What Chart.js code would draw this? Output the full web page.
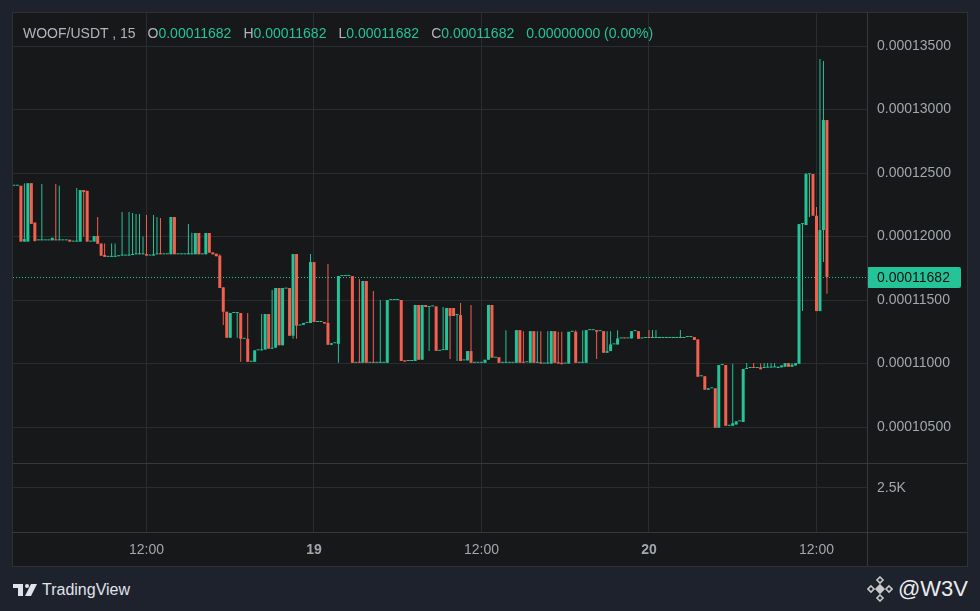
<!DOCTYPE html>
<html>
<head>
<meta charset="utf-8">
<title>WOOF/USDT 15</title>
<script src="https://cdn.jsdelivr.net/npm/chart.js@4.4.1/dist/chart.umd.min.js"></script>
<style>
html, body { margin: 0; padding: 0; width: 980px; height: 611px; overflow: hidden; background: #1e222d; font-family: "Liberation Sans", Arial, sans-serif; }
#panel { position: absolute; left: 12px; top: 12px; width: 954px; height: 553px; background: #161819; border: 1px solid #2e3236; }
.sep { position: absolute; background: #363a3e; }
canvas { position: absolute; }
#legend { position: absolute; left: 23px; top: 24px; font-size: 14px; line-height: 18px; color: #b2b5be; white-space: pre; }
#legend .g { margin-left: 12px; }
#legend .v { color: #25c398; }
#tv { position: absolute; left: 13px; top: 580px; height: 20px; display: flex; align-items: center; color: #e0e3eb; font-size: 16px; }
#tv svg { margin-right: 4px; }
#w3v { position: absolute; left: 867px; top: 574px; height: 30px; display: flex; align-items: center; color: #ececec; font-size: 22px; }
#w3v svg { margin-right: 5px; }
</style>
</head>
<body>
<div id="panel"></div>
<canvas id="priceChart" width="954" height="450" style="left:13px;top:13px"></canvas>
<canvas id="volChart" width="954" height="103" style="left:13px;top:463px"></canvas>
<div class="sep" style="left:867px;top:13px;width:1px;height:553px"></div>
<div class="sep" style="left:13px;top:463px;width:954px;height:1px"></div>
<div class="sep" style="left:13px;top:532px;width:954px;height:1px"></div>
<div id="legend">WOOF/USDT , 15<span class="g">O<span class="v">0.00011682</span></span><span class="g">H<span class="v">0.00011682</span></span><span class="g">L<span class="v">0.00011682</span></span><span class="g">C<span class="v">0.00011682</span></span><span class="g v">0.00000000 (0.00%)</span></div>
<div id="tv">
  <svg width="25" height="14" viewBox="0 0 25 14"><rect x="0" y="1" width="10" height="4" fill="#e0e3eb"/><rect x="5" y="1" width="5" height="12" fill="#e0e3eb"/><circle cx="14" cy="3" r="2" fill="#e0e3eb"/><polygon points="18,1 24,1 18,13 12,13" fill="#e0e3eb"/></svg>
  <span>TradingView</span>
</div>
<div id="w3v">
  <svg width="26" height="26" viewBox="0 0 26 26" fill="none" stroke="#c9c9c9" stroke-width="1.6"><polygon points="13,1 16,4 13,7 10,4"/><polygon points="13,19 16,22 13,25 10,22"/><polygon points="4,10 7,13 4,16 1,13"/><polygon points="22,10 25,13 22,16 19,13"/><polygon points="13,9 17,13 13,17 9,13" fill="#c9c9c9"/></svg>
  <span>@W3V</span>
</div>
<script>
// 15 min candles, prices in 1e-8 USDT
var opens = [
  12400,12400,12400,11960,11960,12420,12110,11970,11970,11970,
  11970,11970,11975,11970,11970,11970,11975,11960,11960,11960,
  12366,12360,11960,11960,12004,11945,11855,11840,11840,11840,
  11845,11850,11850,11850,11855,11860,11860,11860,11862,11850,
  11850,11860,11862,11860,11860,11860,12154,11860,11860,11860,
  11860,11860,11860,12028,11860,11860,12028,11875,11865,11850,
  11600,11408,11203,11398,11398,11398,11195,11195,11014,11014,
  11104,11104,11110,11390,11117,11125,11595,11144,11590,11595,
  11219,11862,11300,11305,11320,11319,11799,11327,11327,11327,
  11320,11148,11160,11155,11689,11689,11689,11689,11006,11010,
  11006,11650,11006,11010,11006,11006,11006,11006,11500,11500,
  11500,11500,11025,11020,11020,11020,11461,11030,11461,11445,
  11450,11450,11100,11106,11106,11437,11437,11382,11382,11025,
  11025,11098,11006,11006,11006,11006,11030,11461,11046,11050,
  11006,11006,11006,11006,11006,11263,11010,11010,11006,11255,
  11006,11010,11000,11000,11000,11255,11010,11006,11000,11000,
  11250,11250,11006,11006,11006,11263,11263,11263,11255,11255,
  11085,11098,11151,11150,11198,11200,11198,11198,11255,11255,
  11198,11201,11203,11201,11201,11201,11201,11201,11201,11201,
  11201,11201,11201,11209,11209,11209,11190,10900,10900,10794,
  10805,10805,10495,10988,10988,10510,10510,10520,10545,10540,
  10957,10965,10968,10965,10970,10965,10968,10968,10970,10965,
  10970,10975,11003,10975,10985,10998,12098,12090,12490,12492,
  12164,11413,12051,12917
];
var highs = [
  12400,12400,12400,12420,12420,12420,12110,11970,12413,11970,
  11970,11990,12413,12400,11970,11970,11975,11960,12382,12366,
  12366,12360,11960,12004,12154,11945,11945,11840,11945,11945,
  11845,12193,11850,12193,12185,12177,12177,12000,12170,11850,
  12170,12154,12146,11860,11860,12154,12154,11860,11860,11860,
  12098,12030,12028,12028,11860,12028,12028,11875,11865,11860,
  11600,11408,11398,11398,11398,11398,11195,11398,11014,11104,
  11104,11390,11390,11390,11579,11595,11595,11595,11590,11595,
  11862,11862,11300,11320,11320,11862,11799,11327,11327,11327,
  11784,11160,11160,11689,11689,11689,11689,11689,11006,11665,
  11650,11650,11006,11571,11006,11500,11006,11500,11500,11500,
  11500,11500,11025,11020,11020,11461,11461,11461,11461,11445,
  11450,11450,11100,11445,11437,11437,11437,11382,11476,11025,
  11098,11461,11006,11006,11006,11030,11461,11461,11046,11050,
  11006,11263,11006,11006,11263,11263,11255,11010,11255,11255,
  11255,11255,11000,11255,11255,11255,11250,11250,11000,11250,
  11255,11263,11006,11263,11263,11263,11263,11263,11255,11255,
  11255,11255,11151,11263,11198,11200,11198,11255,11255,11255,
  11198,11201,11264,11264,11264,11201,11201,11201,11201,11201,
  11201,11264,11209,11209,11209,11209,11190,10900,10900,10805,
  10805,10805,10988,10988,10988,10510,10998,10545,10545,10957,
  11004,10965,11004,10965,11000,11004,11004,11004,11004,10975,
  10985,11003,11003,11004,11003,12098,12098,12500,12490,12492,
  12232,13398,13382,12917
];
var lows = [
  12400,12400,11960,11960,11960,12100,11960,11970,11970,11970,
  11970,11970,11970,11970,11970,11970,11960,11960,11960,11960,
  11998,11960,11960,11960,11943,11849,11840,11840,11840,11840,
  11845,11850,11850,11850,11855,11860,11860,11860,11850,11850,
  11850,11860,11860,11860,11860,11860,11860,11860,11860,11860,
  11860,11860,11860,11860,11860,11860,11873,11860,11845,11595,
  11303,11203,11203,11398,11203,11014,11195,11014,11014,11014,
  11104,11104,11110,11117,11117,11125,11144,11144,11590,11219,
  11195,11195,11300,11305,11320,11319,11327,11327,11327,11315,
  11148,11148,11160,11006,11689,11689,11689,11006,11006,11006,
  11006,11006,11006,11006,11006,11006,11006,11006,11500,11500,
  11500,11020,11015,11020,11020,11020,11030,11030,11445,11098,
  11450,11100,11100,11106,11106,11035,11374,11020,11020,11025,
  11025,11006,11006,11006,11006,11006,11030,11046,11046,11006,
  11006,11006,11006,11006,11006,11006,11006,11010,11006,11006,
  11006,11000,11000,11000,11000,11006,11000,10995,11000,11000,
  11250,11006,11006,11006,11006,11263,11263,11035,11255,11085,
  11085,11098,11151,11150,11198,11198,11198,11198,11255,11195,
  11198,11201,11201,11201,11201,11201,11201,11201,11201,11201,
  11201,11201,11201,11209,11209,11185,10896,10900,10794,10794,
  10805,10495,10495,10988,10510,10510,10510,10520,10545,10540,
  10957,10965,10965,10965,10955,10965,10968,10968,10970,10965,
  10970,10975,10975,10975,10985,10998,11413,12090,12154,12164,
  11413,11413,11799,11550
];
var closes = [
  12400,12400,11960,11980,12420,12100,11965,11970,11970,11970,
  11970,11990,11970,11970,11970,11970,11960,11960,11960,12366,
  12350,11960,11960,12004,11943,11849,11840,11840,11840,11840,
  11845,11850,11850,11850,11855,11860,11860,11860,11850,11850,
  11860,11860,11860,11860,11860,12154,11860,11860,11860,11860,
  11860,11860,12028,11860,11860,12028,11873,11860,11845,11595,
  11408,11203,11398,11398,11398,11195,11195,11014,11014,11104,
  11104,11110,11390,11117,11125,11595,11144,11595,11590,11219,
  11862,11298,11300,11320,11320,11799,11327,11327,11327,11315,
  11148,11160,11160,11689,11689,11689,11689,11006,11006,11006,
  11650,11006,11006,11006,11006,11006,11006,11500,11500,11500,
  11500,11020,11015,11020,11020,11461,11030,11461,11445,11445,
  11450,11100,11100,11106,11437,11374,11374,11382,11020,11025,
  11098,11006,11006,11006,11006,11030,11461,11046,11046,11006,
  11006,11006,11006,11006,11263,11006,11006,11010,11255,11006,
  11006,11000,11000,11000,11255,11006,11000,10995,11000,11250,
  11255,11006,11006,11006,11263,11263,11263,11250,11255,11085,
  11098,11151,11151,11198,11198,11198,11198,11255,11255,11195,
  11198,11201,11201,11201,11201,11201,11201,11201,11201,11201,
  11201,11201,11209,11209,11209,11185,10896,10900,10794,10805,
  10805,10495,10988,10988,10510,10510,10530,10545,10545,10957,
  10965,10965,10965,10965,10955,10965,10968,10968,10970,10975,
  10985,11003,10975,10990,11003,12098,12098,12492,12490,12164,
  11413,12051,12917,11682
];

var UNIT = 1e-8;
var firstHour = 2.5;   // first candle: 18th 02:30, hours counted from 18th 00:00
var times = opens.map(function(o, i){ return firstHour + i * 0.25; });

var priceTicks = [10500, 11000, 11500, 12000, 12500, 13000, 13500];
var timeTicks = [12, 24, 36, 48, 60];
var timeLabels = ['12:00', '19', '12:00', '20', '12:00'];
var volumeTicks = [2500];

var UP = '#25c398';
var DOWN = '#f3604f';
var GRID = '#2a2d2f';
var TEXT = '#a3a6af';
var FONT = '"Liberation Sans", Arial, sans-serif';

var colors = opens.map(function(o, i){ return closes[i] >= o ? UP : DOWN; });
var lastClose = closes[closes.length - 1] * UNIT;

var xMin = 2.435, xMax = 63.62;

var lastPricePlugin = {
	id: 'lastPrice',
	beforeDatasetsDraw: function(chart){
		var ctx = chart.ctx, area = chart.chartArea;
		var py = Math.round(chart.scales.y.getPixelForValue(lastClose)) + 0.5;
		ctx.save();
		ctx.strokeStyle = UP;
		ctx.lineWidth = 1;
		ctx.setLineDash([1, 2]);
		ctx.beginPath();
		ctx.moveTo(area.left, py);
		ctx.lineTo(area.right, py);
		ctx.stroke();
		ctx.restore();
	},
	afterDraw: function(chart){
		var ctx = chart.ctx, area = chart.chartArea;
		var py = Math.round(chart.scales.y.getPixelForValue(lastClose));
		ctx.save();
		ctx.fillStyle = UP;
		ctx.beginPath();
		ctx.roundRect(area.right, py - 10, 94, 21, 2);
		ctx.fill();
		ctx.fillStyle = '#101314';
		ctx.font = '14px ' + FONT;
		ctx.textBaseline = 'middle';
		ctx.fillText(lastClose.toFixed(8), area.right + 10, py + 1);
		ctx.restore();
	}
};

var priceChart = new Chart(document.getElementById('priceChart'), {
	type: 'bar',
	data: {
		datasets: [
			{
				label: 'wick',
				data: times.map(function(t, i){ return {x: t, y: [lows[i] * UNIT, highs[i] * UNIT]}; }),
				backgroundColor: colors,
				barThickness: 1,
				borderWidth: 0,
				inflateAmount: 0,
				grouped: false,
				order: 2
			},
			{
				label: 'body',
				data: times.map(function(t, i){ return {x: t, y: [opens[i] * UNIT, closes[i] * UNIT]}; }),
				backgroundColor: colors,
				barThickness: 3,
				minBarLength: 1,
				borderWidth: 0,
				inflateAmount: 0,
				grouped: false,
				order: 1
			}
		]
	},
	options: {
		responsive: false,
		animation: false,
		layout: { padding: 0 },
		plugins: { legend: { display: false }, tooltip: { enabled: false } },
		scales: {
			x: {
				type: 'linear',
				min: xMin,
				max: xMax,
				offset: false,
				afterBuildTicks: function(s){ s.ticks = timeTicks.map(function(v){ return {value: v}; }); },
				afterFit: function(s){ s.height = 0; s.paddingLeft = 0; s.paddingRight = 0; },
				ticks: { display: false },
				grid: { color: GRID, drawTicks: false, offset: false },
				border: { display: false }
			},
			y: {
				position: 'right',
				beginAtZero: false,
				min: 10217 * UNIT,
				max: 13760 * UNIT,
				afterBuildTicks: function(s){ s.ticks = priceTicks.map(function(v){ return {value: v * UNIT}; }); },
				afterFit: function(s){ s.width = 100; s.paddingTop = 0; s.paddingBottom = 0; },
				ticks: {
					color: TEXT,
					padding: 10,
					font: { family: FONT, size: 14 },
					callback: function(v){ return v.toFixed(8); }
				},
				grid: { color: GRID, drawTicks: false },
				border: { display: false }
			}
		}
	},
	plugins: [lastPricePlugin]
});

var volChart = new Chart(document.getElementById('volChart'), {
	type: 'bar',
	data: { datasets: [] },
	options: {
		responsive: false,
		animation: false,
		layout: { padding: 0 },
		plugins: { legend: { display: false }, tooltip: { enabled: false } },
		scales: {
			x: {
				type: 'linear',
				min: xMin,
				max: xMax,
				offset: false,
				afterBuildTicks: function(s){ s.ticks = timeTicks.map(function(v){ return {value: v}; }); },
				afterFit: function(s){ s.height = 34; s.paddingLeft = 0; s.paddingRight = 0; },
				ticks: {
					color: TEXT,
					padding: 10,
					maxRotation: 0,
					autoSkip: false,
					font: function(c){ return { family: FONT, size: 14, weight: timeLabels[c.index] && timeLabels[c.index].length <= 2 ? 'bold' : 'normal' }; },
					callback: function(v, i){ return timeLabels[i]; }
				},
				grid: { color: GRID, drawTicks: false, offset: false },
				border: { display: false }
			},
			y: {
				position: 'right',
				min: 0,
				max: 3920,
				afterBuildTicks: function(s){ s.ticks = volumeTicks.map(function(v){ return {value: v}; }); },
				afterFit: function(s){ s.width = 100; s.paddingTop = 0; s.paddingBottom = 0; },
				ticks: {
					color: TEXT,
					padding: 10,
					font: { family: FONT, size: 14 },
					callback: function(v){ return (v / 1000) + 'K'; }
				},
				grid: { color: GRID, drawTicks: false },
				border: { display: false }
			}
		}
	}
});
</script>
</body>
</html>
